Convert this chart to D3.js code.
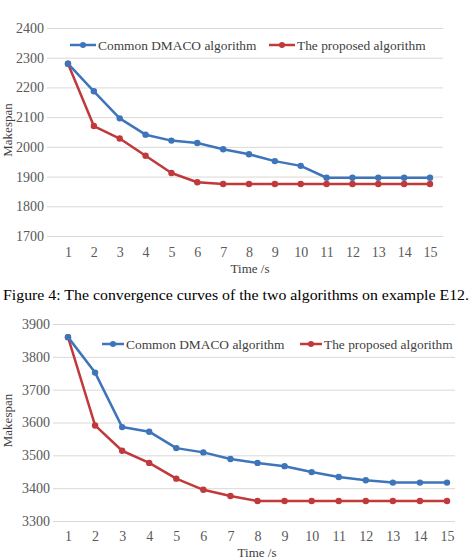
<!DOCTYPE html>
<html>
<head>
<meta charset="utf-8">
<script src="https://cdn.jsdelivr.net/npm/d3@7"></script>
<style>
  body { margin: 0; background: #fff; }
  svg { display: block; }
  svg text { font-family: "Liberation Serif", "Times New Roman", serif; }
</style>
</head>
<body>
<svg id="fig" width="474" height="559"></svg>
<script>
// iterations (time in seconds)
const times = [1, 2, 3, 4, 5, 6, 7, 8, 9, 10, 11, 12, 13, 14, 15];

// upper figure
const upperCommon   = [2280, 2187, 2096, 2041, 2021, 2013, 1992, 1975, 1952, 1936, 1896, 1896, 1896, 1896, 1896];
const upperProposed = [2280, 2070, 2028, 1970, 1912, 1881, 1875, 1875, 1875, 1875, 1875, 1875, 1875, 1875, 1875];
const upperTicks = [1700, 1800, 1900, 2000, 2100, 2200, 2300, 2400];

// example E12
const e12Common   = [3860, 3752, 3586, 3572, 3522, 3509, 3489, 3477, 3467, 3449, 3434, 3424, 3417, 3417, 3417];
const e12Proposed = [3860, 3591, 3514, 3477, 3429, 3395, 3376, 3361, 3361, 3361, 3361, 3361, 3361, 3361, 3361];
const e12Ticks = [3300, 3400, 3500, 3600, 3700, 3800, 3900];

const seriesNames = ["Common DMACO algorithm", "The proposed algorithm"];
const caption = "Figure 4: The convergence curves of the two algorithms on example E12.";

class Line_chart {
    constructor(config, data) {
        this.config = config;
        this.data = data;
        this.init();
    }
    init() {
        let self = this;
        let c = self.config;
        self.svg = d3.select(c.parent);
        self.chart = self.svg.append("g");

        self.xscale = d3.scalePoint().domain(times).range(c.xrange);
        self.yscale = d3.scaleLinear().domain(d3.extent(c.ticks)).range(c.yrange);

        // gridlines + y labels
        self.yaxis = d3.axisLeft(self.yscale)
            .tickValues(c.ticks)
            .tickFormat(d3.format("d"))
            .tickSize(-(c.grid[1] - c.grid[0]))
            .tickPadding(3);
        let yg = self.chart.append("g")
            .attr("transform", `translate(${c.grid[0]},0)`)
            .call(self.yaxis);
        yg.select(".domain").remove();
        yg.selectAll("line").attr("stroke", "#d9d9d9").attr("stroke-width", 1);
        yg.selectAll("text").attr("fill", "#595959").attr("font-size", 14);

        // x labels
        self.xaxis = d3.axisBottom(self.xscale).tickSize(0).tickPadding(c.xpad);
        let xg = self.chart.append("g")
            .attr("transform", `translate(0,${c.yrange[0]})`)
            .call(self.xaxis);
        xg.select(".domain").remove();
        xg.selectAll("text").attr("fill", "#595959").attr("font-size", 14);

        self.chart.append("text")
            .attr("x", c.xlabelx)
            .attr("y", c.xlabely)
            .attr("text-anchor", "middle")
            .attr("font-size", 13)
            .attr("fill", "#404040")
            .text("Time /s");

        self.chart.append("text")
            .attr("transform", "rotate(-90)")
            .attr("x", -(c.yrange[0] + c.yrange[1]) / 2 + 2)
            .attr("y", 12)
            .attr("text-anchor", "middle")
            .attr("font-size", 13)
            .attr("fill", "#404040")
            .text("Makespan");
        self.render();
    }
    render() {
        let self = this;
        let c = self.config;
        let line = d3.line()
            .x((d, i) => self.xscale(times[i]))
            .y(d => self.yscale(d));

        // proposed drawn first so common overlaps at the start
        [1, 0].forEach(k => {
            let values = self.data[k];
            self.chart.append("path")
                .datum(values)
                .attr("d", line)
                .attr("fill", "none")
                .attr("stroke", c.colors[k])
                .attr("stroke-width", 2.5)
                .attr("stroke-linejoin", "round");
            self.chart.selectAll(null)
                .data(values)
                .enter()
                .append("circle")
                .attr("cx", (d, i) => self.xscale(times[i]))
                .attr("cy", d => self.yscale(d))
                .attr("r", 3.2)
                .attr("fill", c.colors[k]);
        });

        // legend
        seriesNames.forEach((name, k) => {
            let lx = c.legend[k];
            let g = self.chart.append("g").attr("transform", `translate(${lx},${c.legendy})`);
            g.append("line")
                .attr("x1", 0).attr("x2", c.legendw)
                .attr("stroke", c.colors[k]).attr("stroke-width", 2.5);
            g.append("circle").attr("cx", c.legendw / 2).attr("r", 3).attr("fill", c.colors[k]);
            g.append("text")
                .attr("x", c.legendw + 2)
                .attr("y", 5)
                .attr("font-size", 13.4)
                .attr("fill", "#404040")
                .text(name);
        });
    }
}

const colors = ["#3e75ba", "#c0393b"];

new Line_chart({
    parent: "#fig",
    xrange: [68, 430],
    yrange: [236, 28],
    grid: [47, 443],
    ticks: upperTicks,
    xpad: 11,
    xlabelx: 250,
    xlabely: 273,
    legendy: 45,
    legend: [70, 269],
    legendw: 26,
    colors: colors
}, [upperCommon, upperProposed]);

d3.select("#fig").append("text")
    .attr("x", 3)
    .attr("y", 300)
    .attr("font-size", 15.5)
    .attr("textLength", 466)
    .attr("lengthAdjust", "spacingAndGlyphs")
    .attr("fill", "#000")
    .text(caption);

new Line_chart({
    parent: "#fig",
    xrange: [68, 447],
    yrange: [521, 324],
    grid: [53, 455],
    ticks: e12Ticks,
    xpad: 10,
    xlabelx: 257,
    xlabely: 557,
    legendy: 344,
    legend: [102, 300],
    legendw: 22,
    colors: colors
}, [e12Common, e12Proposed]);
</script>
</body>
</html>
